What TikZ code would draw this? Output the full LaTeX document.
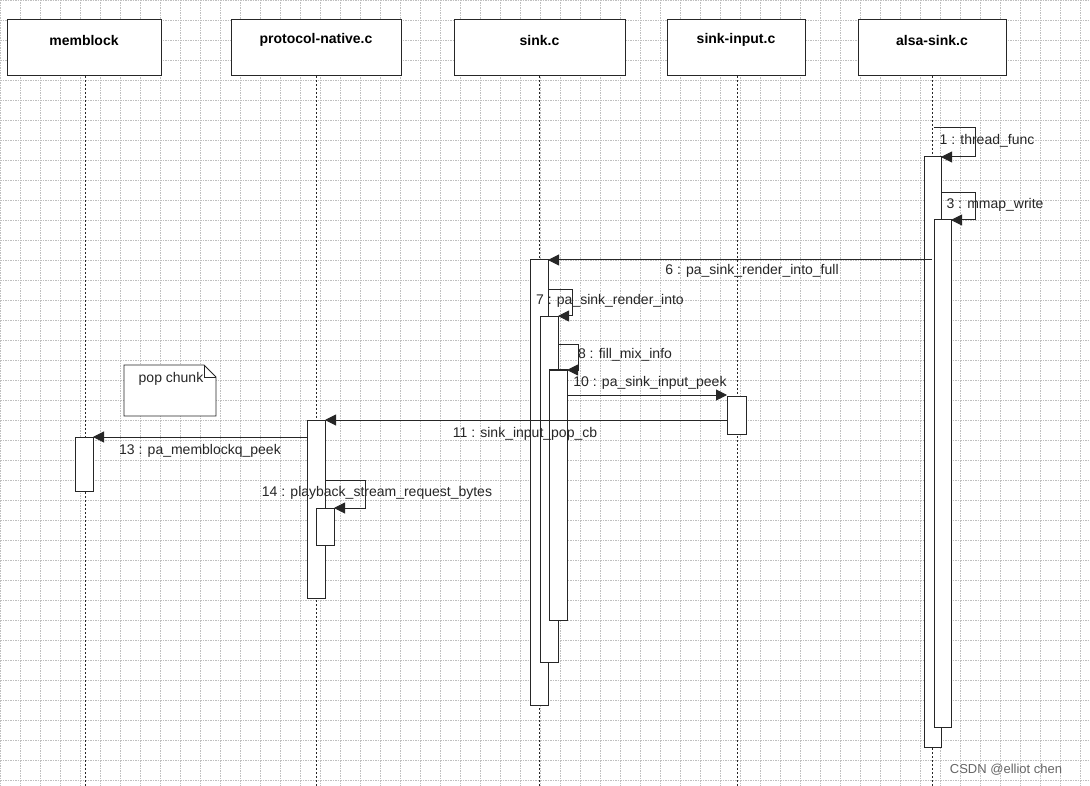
\documentclass[tikz,border=0pt]{standalone}
\usepackage{fontspec}
\setmainfont{Liberation Sans}
\usetikzlibrary{arrows.meta}
\begin{document}
\begin{tikzpicture}[x=1pt,y=-1pt,
 hdr/.style={draw=black!85,fill=white,line width=1pt},
 act/.style={draw=black!85,fill=white,line width=1pt},
 msg/.style={draw=black!85,line width=1pt,-{Triangle[length=11pt,width=11pt]}},
 lbl/.style={font=\fontsize{14}{16}\selectfont,inner sep=1pt,text=black!85},
 life/.style={draw=black!85,dash pattern=on 2pt off 2pt,line width=0.8pt}]
\useasboundingbox (0,0) rectangle (1090,786);
\fill[white] (0,0) rectangle (1090,786);
\foreach \x in {0,20,...,1080}{\draw[black!25,dash pattern=on 1.5pt off 1pt,line width=0.7pt] (\x,0) -- (\x,786);}
\foreach \y in {0,20,...,780}{\draw[black!25,dash pattern=on 1.5pt off 1pt,line width=0.7pt] (0,\y) -- (1090,\y);}
% headers
\foreach \n/\xa/\xb/\t in {mb/7/161/memblock,pn/231/401/protocol-native.c,sk/454/625/sink.c,si/667/805/sink-input.c,al/858/1006/alsa-sink.c}{
 \draw[hdr] (\xa,20) rectangle (\xb,76);
 \node[font=\bfseries\fontsize{14}{16}\selectfont] (\n) at ({(\xa+\xb)/2},40) {\t};
}
\foreach \x in {85,316,539,737,932}{\draw[life] (\x,76) -- (\x,786);}
% activations
\draw[act] (924,157) rectangle (941,747);
\draw[act] (934,220) rectangle (951,727);
\draw[act] (530,260) rectangle (548,705);
\draw[act] (540,317) rectangle (558,662);
\draw[act] (549,370) rectangle (567,620);
\draw[act] (727,396) rectangle (746,434);
\draw[act] (307,420) rectangle (325,598);
\draw[act] (75,437) rectangle (93,491);
\draw[act] (316,508) rectangle (334,545);
% note
\draw[black!85,fill=white,line width=0.8pt] (124,365) -- (204,365) -- (216,377) -- (216,416) -- (124,416) -- cycle;
\draw[black!85,line width=0.8pt] (204,365) -- (204,377) -- (216,377);
\node[lbl] (note) at (171,379) {pop chunk};
% messages
\draw[msg] (934,128) -- (975,128) -- (975,157) -- (941,157);
\node[lbl] at (987,141) {1 : thread\_func};
\draw[msg] (942,193) -- (975,193) -- (975,220) -- (951,220);
\node[lbl] at (995,205) {3 : mmap\_write};
\draw[msg] (932,260) -- (548,260);
\node[lbl] at (752,271) {6 : pa\_sink\_render\_into\_full};
\draw[msg] (548,290) -- (572,290) -- (572,316) -- (558,316);
\node[lbl] at (610,301) {7 : pa\_sink\_render\_into};
\draw[msg] (558,345) -- (578,345) -- (578,370) -- (567,370);
\node[lbl] at (625,355) {8 : fill\_mix\_info};
\draw[msg] (567,395) -- (727,395);
\node[lbl] at (650,383) {10 : pa\_sink\_input\_peek};
\draw[msg] (727,420) -- (325,420);
\node[lbl] at (525,434) {11 : sink\_input\_pop\_cb};
\draw[msg] (307,437) -- (93,437);
\node[lbl] at (200,451) {13 : pa\_memblockq\_peek};
\draw[msg] (325,480) -- (365,480) -- (365,508) -- (334,508);
\node[lbl] at (377,493) {14 : playback\_stream\_request\_bytes};
\node[font=\fontsize{13}{15}\selectfont,text=black!60] at (1006,770) {CSDN @elliot chen};
\end{tikzpicture}
\end{document}
